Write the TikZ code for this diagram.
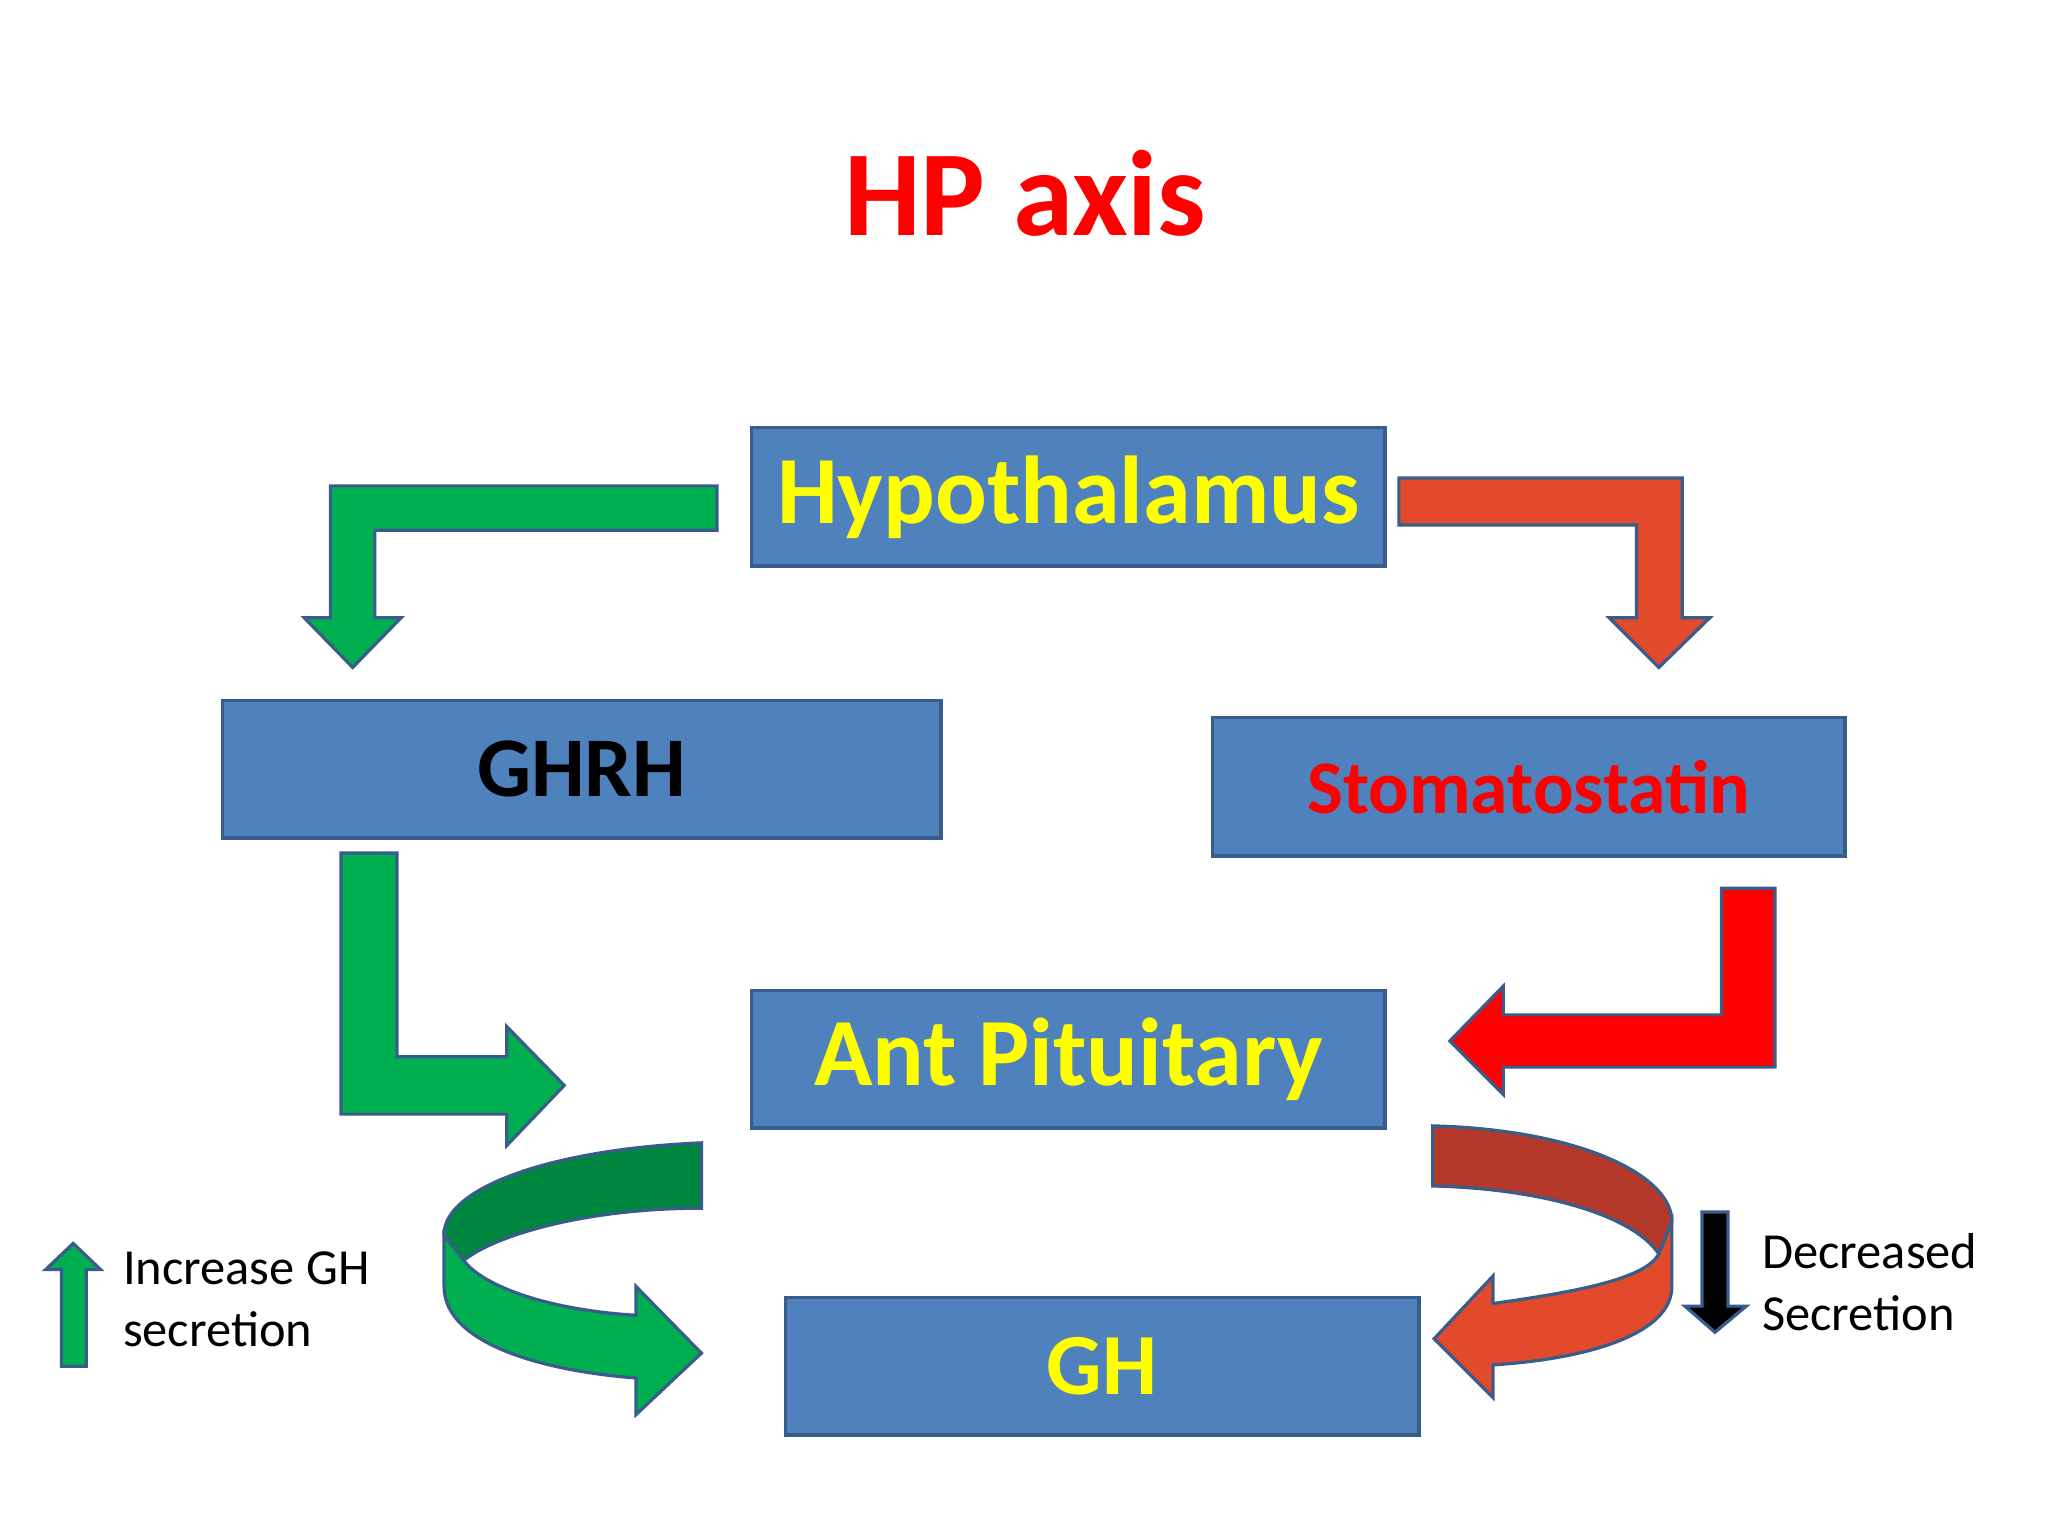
\documentclass[tikz,border=0pt]{standalone}
\usepackage{fontspec}
\setmainfont{Carlito}
\definecolor{boxblue}{HTML}{4F81BD}
\definecolor{edgeblue}{HTML}{385D8A}
\definecolor{ygreen}{HTML}{00B050}
\definecolor{dgreen}{HTML}{00873F}
\definecolor{lred}{HTML}{E34A2B}
\definecolor{dred}{HTML}{B4392A}
\definecolor{yel}{HTML}{FFFF00}
\begin{document}
\begin{tikzpicture}[x=0.02cm,y=-0.02cm]
\tikzset{
 box/.style={draw=edgeblue,fill=boxblue,line width=1.6pt,anchor=north west,inner sep=0pt},
 arr/.style={draw=edgeblue,line width=1.4pt,line join=miter},
}
\useasboundingbox[fill=white] (0,0) rectangle (1568,1176);
\node[text=red,font=\fontsize{53}{60}\selectfont\bfseries] (title) at (785,148) {HP axis};
\node[box,minimum width=485*0.02cm,minimum height=106*0.02cm] (hyp) at (574,326) {};
\node[text=yel,font=\fontsize{42}{50}\selectfont\bfseries] at (hyp.center) {Hypothalamus};
\node[box,minimum width=550*0.02cm,minimum height=105*0.02cm] (ghrh) at (169,535) {};
\node[font=\fontsize{37}{44}\selectfont\bfseries] at (ghrh.center) {GHRH};
\node[box,minimum width=484*0.02cm,minimum height=106*0.02cm] (som) at (927,548) {};
\node[text=red,font=\fontsize{33}{40}\selectfont\bfseries] at (som.center) {Stomatostatin};
\node[box,minimum width=485*0.02cm,minimum height=105*0.02cm] (ant) at (574,757) {};
\node[text=yel,font=\fontsize{42}{50}\selectfont\bfseries] at (ant.center) {Ant Pituitary};
\node[box,minimum width=485*0.02cm,minimum height=105*0.02cm] (gh) at (600,992) {};
\node[text=yel,font=\fontsize{38}{46}\selectfont\bfseries] at (gh.center) {GH};
% bent arrows
\draw[arr,fill=ygreen] (549,372)--(253,372)--(253,473)--(233,473)--(270,511)--(307,473)--(287,473)--(287,406)--(549,406)--cycle;
\draw[arr,fill=lred] (1071,366)--(1288,366)--(1288,473)--(1309,473)--(1270,511)--(1232,473)--(1253,473)--(1253,402)--(1071,402)--cycle;
\draw[arr,fill=ygreen] (261,653)--(304,653)--(304,809)--(388,809)--(388,786)--(432,831)--(388,877)--(388,853)--(261,853)--cycle;
\draw[arr,fill=red] (1318,680)--(1359,680)--(1359,817)--(1151,817)--(1151,838)--(1110,797)--(1151,755)--(1151,777)--(1318,777)--cycle;
% curved arrows
\draw[arr,fill=ygreen] (340,945)--(340,985) .. controls (340,1030) and (420,1050) .. (487,1055)--(487,1083)--(537,1036)--(487,985)--(487,1007) .. controls (420,1003) and (370,985) .. (355,965)--cycle;
\draw[arr,fill=dgreen] (537,875) .. controls (420,880) and (340,910) .. (340,945)--(355,965) .. controls (380,945) and (450,925) .. (537,925)--cycle;
\draw[arr,fill=lred] (1280,935)--(1280,985) .. controls (1280,1020) and (1220,1040) .. (1143,1045)--(1143,1070)--(1098,1025)--(1143,977)--(1143,998) .. controls (1200,990) and (1260,980) .. (1270,960)--cycle;
\draw[arr,fill=dred] (1097,862) .. controls (1210,865) and (1280,900) .. (1280,935)--(1270,960) .. controls (1250,930) and (1180,910) .. (1097,908)--cycle;
% legend
\draw[arr,fill=ygreen] (47,1046)--(47,972)--(35,972)--(56,952)--(77,972)--(66,972)--(66,1046)--cycle;
\node[anchor=north west,align=left,font=\fontsize{22}{27}\selectfont] (inc) at (88,952) {Increase GH\\secretion};
\draw[arr,fill=black] (1303,928)--(1323,928)--(1323,1000)--(1337,1000)--(1313,1020)--(1290,1000)--(1303,1000)--cycle;
\node[anchor=north west,align=left,font=\fontsize{22}{27}\selectfont] (dec) at (1343,938) {Decreased\\Secretion};
\end{tikzpicture}
\end{document}
